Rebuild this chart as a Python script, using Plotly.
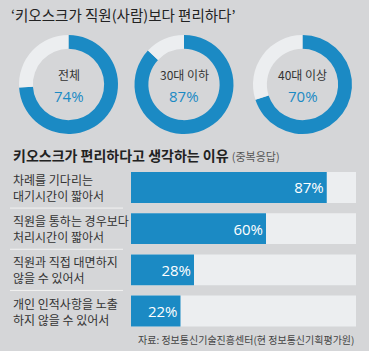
import plotly.graph_objects as go

W, H = 369, 351

title = "‘키오스크가 직원(사람)보다 편리하다’"
donut_labels = ["전체", "30대 이하", "40대 이상"]
donut_values = [74, 87, 70]

subtitle = "키오스크가 편리하다고 생각하는 이유"
subtitle_note = "(중복응답)"
reasons = ["차례를 기다리는<br>대기시간이 짧아서",
           "직원을 통하는 경우보다<br>처리시간이 짧아서",
           "직원과 직접 대면하지<br>않을 수 있어서",
           "개인 인적사항을 노출<br>하지 않을 수 있어서"]
reason_values = [87, 60, 28, 22]
source = "자료: 정보통신기술진흥센터(현 정보통신기획평가원)"

BLUE = "#1b8ac4"
LIGHT = "#eceef0"
BG = "#d5d6d8"
FONT = "Noto Sans CJK KR"

def px_x(x):
    return x / W

def px_y(y):
    return 1 - y / H

fig = go.Figure()

centers_x = [68.5, 184, 302.5]
cy = 84.5
r = 49.5
for i, (lab, v) in enumerate(zip(donut_labels, donut_values)):
    cx = centers_x[i]
    fig.add_trace(go.Pie(
        values=[v, 100 - v],
        marker=dict(colors=[BLUE, LIGHT], line=dict(width=0)),
        hole=0.72, sort=False, direction="clockwise", rotation=0,
        textinfo="none", hoverinfo="skip", showlegend=False,
        domain=dict(x=[px_x(cx - r), px_x(cx + r)], y=[px_y(cy + r), px_y(cy - r)]),
    ))
    fig.add_annotation(x=px_x(cx), y=px_y(74.5), xref="paper", yref="paper",
                       text=lab, showarrow=False, xanchor="center", yanchor="middle",
                       font=dict(family=FONT, size=12, color="#333333"))
    fig.add_annotation(x=px_x(cx), y=px_y(95.5), xref="paper", yref="paper",
                       text=f"{v}%", showarrow=False, xanchor="center", yanchor="middle",
                       font=dict(family="Open Sans", size=15, color=BLUE))

ypos = list(range(len(reasons)))
fig.add_trace(go.Bar(
    x=[100] * len(reasons), y=ypos, orientation="h", width=0.75,
    marker=dict(color=LIGHT, line=dict(width=0)), hoverinfo="skip", showlegend=False,
))
fig.add_trace(go.Bar(
    x=reason_values, y=ypos, orientation="h", width=0.75,
    marker=dict(color=BLUE, line=dict(width=0)),
    text=[f"{v}%" for v in reason_values], textposition="inside",
    insidetextanchor="end", textangle=0,
    textfont=dict(family="Open Sans", size=15, color="white"),
    hoverinfo="skip", showlegend=False,
))

top_px, bot_px = 166.9, 331.6
fig.update_layout(
    width=W, height=H, margin=dict(l=0, r=0, t=0, b=0),
    paper_bgcolor=BG, plot_bgcolor="rgba(0,0,0,0)",
    barmode="overlay", uniformtext=dict(minsize=8, mode="show"),
    xaxis=dict(domain=[px_x(131), px_x(356)], range=[0, 100], visible=False, fixedrange=True),
    yaxis=dict(domain=[px_y(bot_px), px_y(top_px)], range=[3.5, -0.5], visible=False, fixedrange=True),
)

for i, lab in enumerate(reasons):
    yc = top_px + (i + 0.5) * (bot_px - top_px) / 4
    fig.add_annotation(x=px_x(11), y=px_y(yc), xref="paper", yref="paper",
                       text=lab, showarrow=False, xanchor="left", yanchor="middle", align="left",
                       font=dict(family=FONT, size=12, color="#333333"))
    if i < len(reasons) - 1:
        ys = top_px + (i + 1) * (bot_px - top_px) / 4
        fig.add_shape(type="line", xref="paper", yref="paper",
                      x0=px_x(10), x1=px_x(123), y0=px_y(ys), y1=px_y(ys),
                      line=dict(color="#f2f2f2", width=1))

fig.add_annotation(x=px_x(9), y=px_y(15), xref="paper", yref="paper", text=title,
                   showarrow=False, xanchor="left", yanchor="middle",
                   font=dict(family=FONT, size=14.5, color="#222222"))
fig.add_annotation(x=px_x(11), y=px_y(155), xref="paper", yref="paper",
                   text=f"<b>{subtitle}</b> <span style='font-size:11px;color:#555555'>{subtitle_note}</span>",
                   showarrow=False, xanchor="left", yanchor="middle",
                   font=dict(family=FONT, size=14, color="#222222"))
fig.add_annotation(x=px_x(356), y=px_y(339), xref="paper", yref="paper", text=source,
                   showarrow=False, xanchor="right", yanchor="middle",
                   font=dict(family=FONT, size=10, color="#444444"))

fig.write_html("out.html")
